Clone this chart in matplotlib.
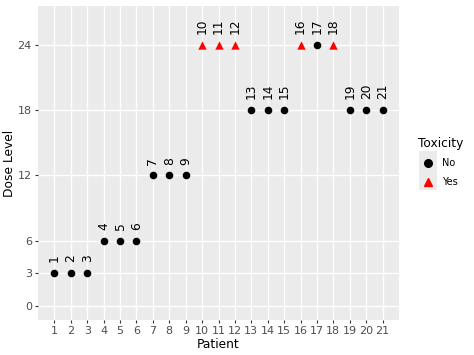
import matplotlib.pyplot as plt
from matplotlib.lines import Line2D
from matplotlib.patches import Rectangle

patients = list(range(1, 22))
dose = [3, 3, 3, 6, 6, 6, 12, 12, 12, 24, 24, 24, 18, 18, 18, 24, 24, 24, 18, 18, 18]
toxicity = ["No"] * 9 + ["Yes"] * 3 + ["No"] * 3 + ["Yes", "No", "Yes"] + ["No"] * 3
dose_ticks = [0, 3, 6, 12, 18, 24]

W, H = 474, 355
fig = plt.figure(figsize=(W / 100, H / 100), dpi=100)
ax = fig.add_axes([38 / W, 1 - 320 / H, (399 - 38) / W, (320 - 6) / H])
ax.set_facecolor("#EBEBEB")
for s in ax.spines.values():
    s.set_visible(False)

ax.set_xticks(patients)
ax.set_yticks(dose_ticks)
ax.grid(True, color="white", linewidth=1.0)
ax.set_axisbelow(True)
ax.set_xlim(0, 22)
ax.set_ylim(-1.3, 27.6)

for p, d, t in zip(patients, dose, toxicity):
    if t == "Yes":
        ax.scatter(p, d, marker="^", s=36, color="#FF0000", linewidths=0, zorder=3)
    else:
        ax.scatter(p, d, marker="o", s=30, color="black", linewidths=0, zorder=3)
    ax.text(p, d + 1.0, str(p), rotation=90, ha="center", va="bottom",
            fontsize=8.8, color="black")

ax.tick_params(axis="both", colors="#333333", labelcolor="#4D4D4D",
               labelsize=8, length=2.5, width=0.8, pad=2)
ax.set_xlabel("Patient", fontsize=8.8, labelpad=1)
ax.set_ylabel("Dose Level", fontsize=8.8, labelpad=1)

# legend drawn by hand, ggplot style
def fx(px):
    return px / W

def fy(py):
    return 1 - py / H

fig.text(fx(418), fy(143), "Toxicity", fontsize=8.8, ha="left", va="center")
fig.add_artist(Rectangle((fx(419), fy(190)), fx(437) - fx(419), fy(151) - fy(190),
                         transform=fig.transFigure, facecolor="#EBEBEB",
                         edgecolor="none"))
fig.add_artist(Line2D([fx(428)], [fy(163)], marker="o", color="black",
                      markersize=5.5, linestyle="", transform=fig.transFigure))
fig.add_artist(Line2D([fx(428)], [fy(181.5)], marker="^", color="#FF0000",
                      markersize=6.2, linestyle="", transform=fig.transFigure))
fig.text(fx(442), fy(163), "No", fontsize=7, ha="left", va="center")
fig.text(fx(442), fy(182), "Yes", fontsize=7, ha="left", va="center")

fig.savefig("out.png", dpi=100)
